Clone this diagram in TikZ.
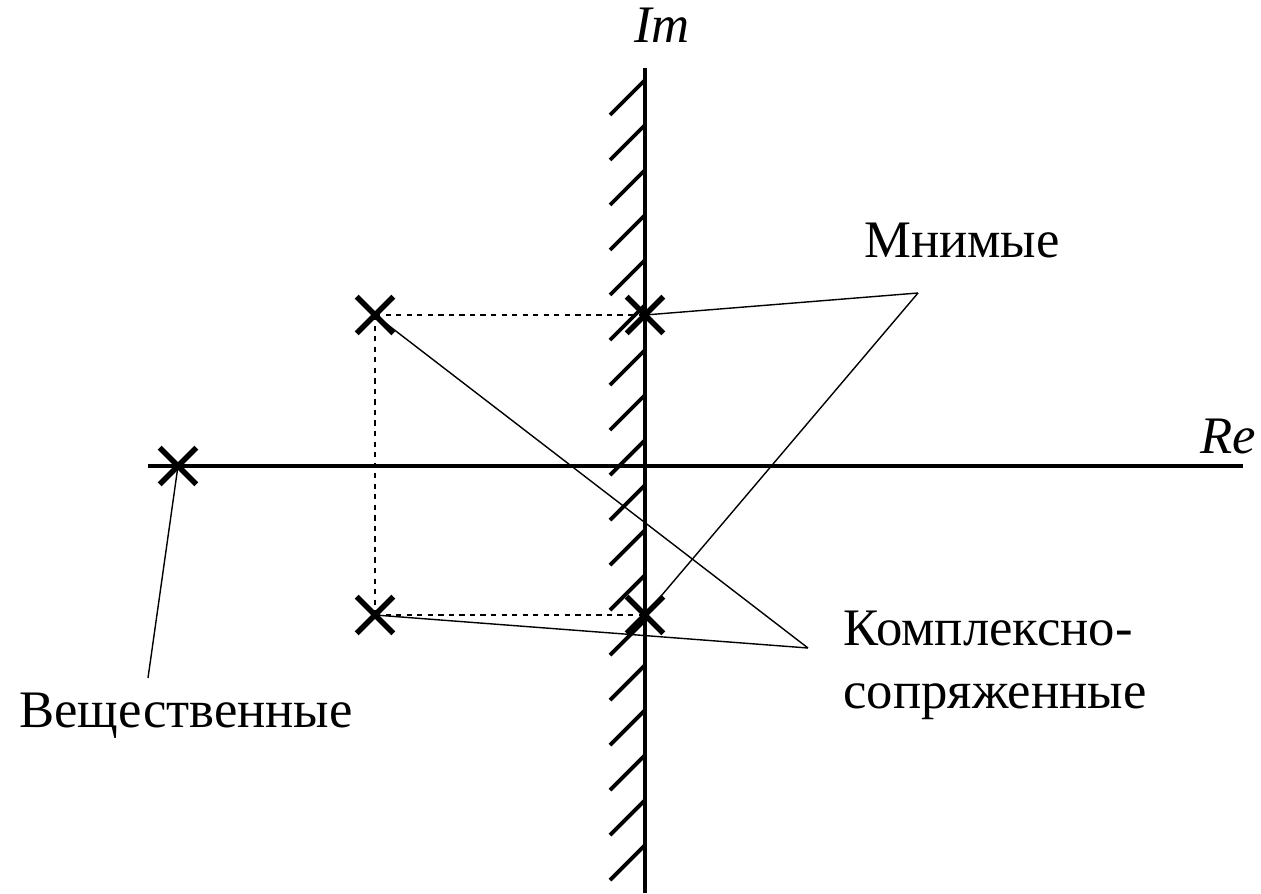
\documentclass[tikz,border=0pt]{standalone}
\usepackage{fontspec}
\setmainfont{Liberation Serif}
\usetikzlibrary{shapes.misc}
\tikzset{
  pole/.style={cross out,draw,line width=3.2pt,minimum size=0.62cm,inner sep=0pt},
  lbl/.style={font=\fontsize{30}{36}\selectfont,align=left,inner sep=0pt},
  lead/.style={line width=0.8pt},
  guide/.style={dashed,line width=0.8pt}
}
\begin{document}
\begin{tikzpicture}[x=0.02cm,y=-0.02cm]
  \useasboundingbox (0,0) rectangle (1261,893);
  % axes
  \draw[line width=2.2pt] (645,68) -- (645,893);
  \draw[line width=2.2pt] (148,466) -- (1243,466);
  \node[lbl,font=\fontsize{30}{36}\selectfont\itshape] (im) at (662,25) {Im};
  \node[lbl,font=\fontsize{30}{36}\selectfont\itshape] (re) at (1228,436) {Re};
  % hatching of the imaginary axis
  \foreach \y in {80,125,...,860} {
    \draw[line width=2.2pt] (610,\y+35) -- (645,\y);
  }
  % poles
  \node[pole] (pr) at (178,466) {};
  \node[pole] (pcu) at (375,315) {};
  \node[pole] (pcl) at (375,615) {};
  \node[pole] (piu) at (645,315) {};
  \node[pole] (pil) at (645,615) {};
  \draw[guide] (pcu.center) -- (piu.center);
  \draw[guide] (pcu.center) -- (pcl.center);
  \draw[guide] (pcl.center) -- (pil.center);
  % labels
  \node[lbl] (mn) at (962,240) {Мнимые};
  \node[lbl] (ks) at (995,665) {Комплексно-\\сопряженные};
  \node[lbl] (vs) at (186,716) {Вещественные};
  \coordinate (amn) at (918,293);
  \coordinate (aks) at (808,648);
  \coordinate (avs) at (148,678);
  \draw[lead] (amn) -- (piu.center);
  \draw[lead] (amn) -- (pil.center);
  \draw[lead] (aks) -- (pcu.center);
  \draw[lead] (aks) -- (pcl.center);
  \draw[lead] (avs) -- (pr.center);
\end{tikzpicture}
\end{document}
